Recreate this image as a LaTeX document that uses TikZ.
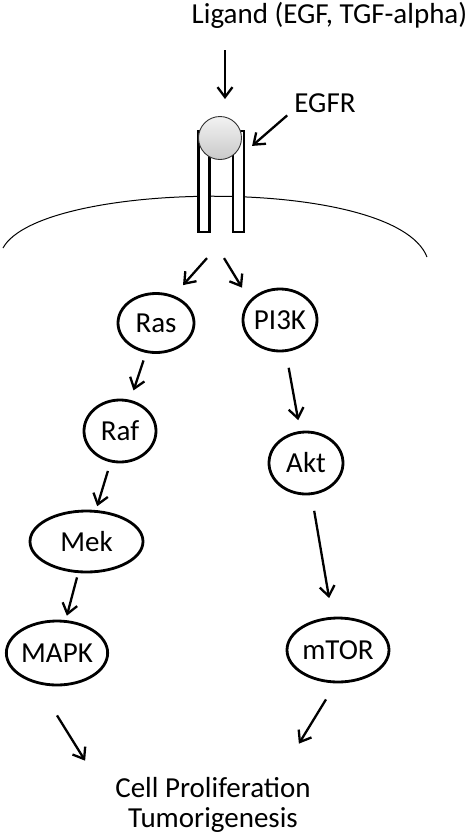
\documentclass[tikz,border=0pt]{standalone}
\usepackage{fontspec}
\setmainfont{Carlito}
\usetikzlibrary{arrows.meta,shapes.geometric}

\tikzset{
  arr/.style={-{Straight Barb[length=10pt,width=15pt]}, line width=2.3pt},
  protein/.style={ellipse, draw, line width=2.8pt, inner sep=0pt},
  leg/.style={rectangle, draw, fill=white, line width=2.2pt, inner sep=0pt, minimum width=11pt, minimum height=101pt},
  lbl/.style={inner sep=0pt, anchor=base},
}

\begin{document}
\begin{tikzpicture}[x=1pt, y=-1pt, font=\fontsize{29}{30}\selectfont]
      \useasboundingbox (0,0) rectangle (474,839);
      % cell membrane
      \draw[line width=1pt] (3,248) .. controls (40,180) and (395,175) .. (427,257);
      % receptor
      \node (legL) at (204,181.5) [leg] {};
      \node (legR) at (238.5,181.5) [leg] {};
      \node (ball) at (220,138) [circle, draw=black!80, line width=0.9pt, top color=gray!10, bottom color=gray!42, minimum size=43pt, inner sep=0pt] {};
      % labels
      \node (ligand) at (329.5,23) [lbl] {Ligand (EGF, TGF-alpha)};
      \node (egfrlab) at (325,112) [lbl] {EGFR};
      \node (cellprol) at (213,797) [lbl] {Cell Proliferation};
      \node (tumor) at (213,827) [lbl] {Tumorigenesis};
      % pathway
      \node (ras) at (156,323) [protein, minimum width=76pt, minimum height=59pt] {Ras};
      \node (pi3k) at (280,320) [protein, minimum width=74pt, minimum height=62pt] {PI3K};
      \node (raf) at (120,431) [protein, minimum width=72pt, minimum height=62pt] {Raf};
      \node (akt) at (306,463) [protein, minimum width=74pt, minimum height=62pt] {Akt};
      \node (mek) at (86.5,541.5) [protein, minimum width=113pt, minimum height=61pt] {Mek};
      \node (mapk) at (57,653) [protein, minimum width=98pt, minimum height=64pt] {MAPK};
      \node (mtor) at (338,650) [protein, minimum width=102pt, minimum height=64pt] {mTOR};
      % arrows
      \draw[arr] ([xshift=5pt,yshift=-22pt]ligand.south -| ball.north) -- ([xshift=5pt,yshift=17pt]ball.north);
      \draw[arr] ([xshift=-7pt,yshift=-3pt]egfrlab.south west) -- ([xshift=7pt,yshift=-16pt]legR.north east);
      \draw[arr] ([xshift=3pt,yshift=-25pt]legL.south) -- ([xshift=27pt,yshift=7pt]ras.north);
      \draw[arr] ([xshift=-14.5pt,yshift=-25pt]legR.south) -- ([xshift=-38pt]pi3k.north);
      \foreach \source/\dest/\gapa/\gapb in {ras/raf/8pt/10pt, raf/mek/9pt/4pt, mek/mapk/4.5pt/4.5pt, pi3k/akt/16pt/11pt, akt/mtor/16pt/19pt}
        \draw[arr, shorten <=\gapa, shorten >=\gapb] (\source) -- (\dest);
      \draw[arr] ([yshift=-29pt]mapk.south) -- ([xshift=-30pt,yshift=16pt]cellprol.north west);
      \draw[arr] ([xshift=-12pt,yshift=-16pt]mtor.south) -- ([xshift=-12pt,yshift=33pt]cellprol.north east);
\end{tikzpicture}
\end{document}
